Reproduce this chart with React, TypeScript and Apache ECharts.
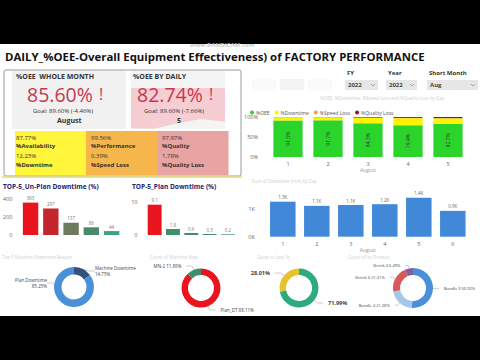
import { useEffect, useRef } from "react";
import * as echarts from "echarts";

const FONT = '"Open Sans", "Noto Sans", sans-serif';

// ---- Stacked daily OEE chart ----
const days5 = ["1", "2", "3", "4", "5"];
const oeePct = [91.5, 91.7, 84.3, 79.4, 82.7];
const downtimePct = [8.1, 7.5, 13.4, 17.7, 13.9];
const speedLossPct = [0.2, 0.4, 0.8, 0.6, 0.5];
const qualityLossPct = [0.2, 0.4, 1.5, 2.3, 2.9];

// ---- Top-5 downtime charts ----
const unplanReasons = ["Reason 1", "Reason 2", "Reason 3", "Reason 4", "Reason 5"];
const unplanValues = [363, 297, 137, 86, 44];
const unplanColors = ["#E8141E", "#C4262E", "#6E7A5C", "#4A8A68", "#3AA57C"];
const planReasons = ["Plan 1", "Plan 2", "Plan 3", "Plan 4", "Plan 5"];
const planValues = [9.1, 1.8, 0.6, 0.3, 0.2];
const planColors = ["#E8141E", "#3F8E6C", "#3F8E6C", "#3F8E6C", "#3F8E6C"];

// ---- Daily downtime (blue) ----
const days6 = ["1", "2", "3", "4", "5", "6"];
const dailyDowntime = [1260, 1110, 1140, 1170, 1400, 930];

// ---- Donuts ----
const donut1Names = ["Machine Downtime", "Plan Downtime"];
const donut1Values = [14.75, 85.25];
const donut1Colors = ["#34507F", "#4A8FD9"];
const donut2Names = ["Plan_DT", "MN-2"];
const donut2Values = [88.11, 11.89];
const donut2Colors = ["#E8141E", "#3F8E6C"];
const donut3Names = ["Good", "Loss"];
const donut3Values = [71.99, 28.01];
const donut3Colors = ["#2DAA7E", "#E6C22C"];
const donut4Names = ["Bundle 3", "Bundle 4", "Shrink 6", "Shrink 3"];
const donut4Values = [50.92, 21.28, 21.31, 6.49];
const donut4Colors = ["#4A8FD9", "#A5C8EA", "#D65A5A", "#7D5FA0"];

// ---- KPI texts ----
const kpiCells = [
  { x: 16, bg: "#FFF53A", v1: "87.77%", l1: "%Availability", v2: "12.23%", l2: "%Downtime" },
  { x: 91, bg: "#F7B64C", v1: "99.56%", l1: "%Performance", v2: "0.39%", l2: "%Speed Loss" },
  { x: 162, bg: "#E8A3A3", v1: "97.97%", l1: "%Quality", v2: "1.78%", l2: "%Quality Loss" },
];

function txt(x: number, y: number, text: string, style: any = {}, extra: any = {}) {
  return {
    type: "text",
    x,
    y,
    z: 20,
    style: {
      text,
      fontFamily: FONT,
      fontSize: 6,
      fill: "#333",
      textVerticalAlign: "middle",
      ...style,
    },
    ...extra,
  };
}

export default function App() {
  const ref = useRef<HTMLDivElement>(null);

  useEffect(() => {
    if (!ref.current) return;
    const chart = echarts.init(ref.current, undefined, { renderer: "svg" });

    const axisLbl = { fontSize: 5.5, color: "#666", fontFamily: FONT };
    const bigNum = { fontSize: 19.5, lineHeight: 18, fill: "#C8374D" };

    const graphic: any[] = [
      { type: "rect", shape: { x: 0, y: 0, width: 480, height: 44 }, style: { fill: "#000" }, z: 1 },
      { type: "rect", shape: { x: 0, y: 316, width: 480, height: 44 }, style: { fill: "#000" }, z: 1 },
      txt(5, 56.5, "DAILY_%OEE-Overall Equipment Effectiveness) of FACTORY PERFORMANCE", {
        fontSize: 11.4,
        lineHeight: 12,
        fontWeight: "bold",
        fill: "#111",
      }),
      txt(190, 45, "www.BANDICAM.com", { fontSize: 6, lineHeight: 6, fontWeight: "bold", fill: "rgba(190,190,190,0.85)" }, { z: 30 }),
      // KPI box
      { type: "rect", shape: { x: 4, y: 70, width: 237, height: 106, r: 2 }, style: { fill: "#fff", stroke: "#9a9a9a", lineWidth: 1 }, z: 1 },
      { type: "line", shape: { x1: 2, y1: 177, x2: 242, y2: 177 }, style: { stroke: "#E6DD73", lineWidth: 1.5 }, z: 1 },
      { type: "rect", shape: { x: 12, y: 71, width: 114, height: 58 }, style: { fill: "#F1F1F1" }, z: 1 },
      { type: "rect", shape: { x: 131, y: 71, width: 94, height: 58 }, style: { fill: "#F4F4F4" }, z: 1 },
      txt(16, 76.5, "%OEE  WHOLE MONTH", { fontSize: 7, lineHeight: 7, fontWeight: "bold" }),
      txt(27, 94, "85.60%", bigNum),
      txt(99, 94, "!", { ...bigNum, fontSize: 16 }),
      txt(33, 110.5, "Goal: 89.60% (-4.46%)", { fontSize: 6, lineHeight: 6 }),
      txt(57, 120, "August", { fontSize: 7, lineHeight: 7, fontWeight: "bold" }),
      txt(133, 76.5, "%OEE BY DAILY", { fontSize: 7, lineHeight: 7, fontWeight: "bold" }),
      txt(137, 94, "82.74%", bigNum),
      txt(209, 94, "!", { ...bigNum, fontSize: 16 }),
      txt(144, 110.5, "Goal: 89.60% (-7.66%)", { fontSize: 6, lineHeight: 6 }),
      txt(177, 120, "5", { fontSize: 7, lineHeight: 7, fontWeight: "bold" }),
      // slicers
      txt(347, 73, "FY", { fontSize: 6, fontWeight: "bold" }),
      txt(388, 73, "Year", { fontSize: 6, fontWeight: "bold" }),
      txt(429, 73, "Short Month", { fontSize: 6, fontWeight: "bold" }),
      { type: "rect", shape: { x: 345, y: 80, width: 33, height: 10 }, style: { fill: "#E6E6E6" }, z: 1 },
      { type: "rect", shape: { x: 386, y: 80, width: 31, height: 10 }, style: { fill: "#E6E6E6" }, z: 1 },
      { type: "rect", shape: { x: 427, y: 80, width: 51, height: 10 }, style: { fill: "#E6E6E6" }, z: 1 },
      txt(348, 85, "2022", { fontSize: 6, fontWeight: "bold", fill: "#444" }),
      txt(389, 85, "2022", { fontSize: 6, fontWeight: "bold", fill: "#444" }),
      txt(430, 85, "Aug", { fontSize: 6, fontWeight: "bold", fill: "#444" }),
      { type: "polyline", shape: { points: [[371, 84], [373, 86], [375, 84]] }, style: { stroke: "#888", lineWidth: 0.7, fill: null }, z: 5 },
      { type: "polyline", shape: { points: [[410, 84], [412, 86], [414, 84]] }, style: { stroke: "#888", lineWidth: 0.7, fill: null }, z: 5 },
      { type: "polyline", shape: { points: [[471, 84], [473, 86], [475, 84]] }, style: { stroke: "#888", lineWidth: 0.7, fill: null }, z: 5 },
      { type: "rect", shape: { x: 280, y: 79, width: 24, height: 11 }, style: { fill: "#F3F3F3" }, z: 1 },
      { type: "rect", shape: { x: 252, y: 79, width: 24, height: 11 }, style: { fill: "#FAFAFA" }, z: 1 },
      { type: "rect", shape: { x: 308, y: 79, width: 24, height: 11 }, style: { fill: "#FAFAFA" }, z: 1 },
      // faint visual titles
      txt(320, 98, "%OEE, %Downtime, %Speed Loss and %Quality Loss by Day", { fontSize: 4.5, fill: "#cfcfcf" }),
      txt(252, 181, "Sum of Downtime (min) by Day", { fontSize: 4.5, fill: "#cfcfcf" }),
      txt(2, 257, "Top 5 Machine Downtime Reason", { fontSize: 4.5, fill: "#d0d0d0" }),
      txt(150, 257, "Count of Machine Stop", { fontSize: 4.5, fill: "#d0d0d0" }),
      txt(257, 257, "Good vs Loss %", { fontSize: 4.5, fill: "#d0d0d0" }),
      txt(348, 257, "Count of by Product", { fontSize: 4.5, fill: "#d0d0d0" }),
      // chart titles
      txt(3, 186, "TOP-5_Un-Plan Downtime (%)", { fontSize: 6.6, fontWeight: "bold", fill: "#27246E" }),
      txt(132, 186, "TOP-5_Plan Downtime (%)", { fontSize: 6.6, fontWeight: "bold", fill: "#27246E" }),
    ];

    kpiCells.forEach((c, i) => {
      graphic.push({
        type: "rect",
        shape: { x: 15 + i * 71, y: 131, width: 71.5, height: 44 },
        style: { fill: c.bg },
        z: 2,
      });
      graphic.push(txt(c.x, 138, c.v1, { fontSize: 6 }));
      graphic.push(txt(c.x, 146, c.l1, { fontSize: 6, fontWeight: "bold" }));
      graphic.push(txt(c.x, 156, c.v2, { fontSize: 6 }));
      graphic.push(txt(c.x, 165, c.l2, { fontSize: 6, fontWeight: "bold" }));
    });

    const pieCommon = {
      type: "pie",
      startAngle: 90,
      clockwise: true,
      avoidLabelOverlap: true,
      emphasis: { disabled: true },
      labelLine: { length: 4, length2: 6, lineStyle: { color: "#aaa", width: 0.6 } },
      labelLayout: { hideOverlap: false },
    };

    const mk = (names: string[], values: number[], colors: string[]) =>
      names.map((n, i) => ({ name: n, value: values[i], itemStyle: { color: colors[i] } }));

    const option: any = {
      animation: false,
      backgroundColor: "#fff",
      textStyle: { fontFamily: FONT },
      graphic,
      legend: {
        data: ["%OEE", "%Downtime", "%Speed Loss", "%Quality Loss"],
        left: 245,
        top: 105,
        icon: "circle",
        itemWidth: 4,
        itemHeight: 4,
        itemGap: 5,
        textStyle: { fontSize: 5, color: "#555", padding: [0, 0, 0, -3] },
      },
      grid: [
        { left: 268, top: 117, width: 200, height: 40 },
        { left: 19.25, top: 199.3, width: 102.5, height: 35.7 },
        { left: 145.5, top: 201.7, width: 91.5, height: 33.3 },
        { left: 265.8, top: 195, width: 204, height: 41.7 },
        { left: 131, top: 88, width: 94, height: 41 },
      ],
      xAxis: [
        {
          gridIndex: 0, type: "category", data: days5,
          axisLine: { show: false }, axisTick: { show: false },
          axisLabel: { ...axisLbl, margin: 4 },
          name: "August", nameLocation: "middle", nameGap: 10,
          nameTextStyle: { fontSize: 5, color: "#999" },
        },
        { gridIndex: 1, type: "category", data: unplanReasons, show: false },
        { gridIndex: 2, type: "category", data: planReasons, show: false },
        {
          gridIndex: 3, type: "category", data: days6,
          axisLine: { show: false }, axisTick: { show: false },
          axisLabel: { ...axisLbl, margin: 4 },
          name: "August", nameLocation: "middle", nameGap: 10,
          nameTextStyle: { fontSize: 5, color: "#999" },
        },
        { gridIndex: 4, type: "category", data: days5, show: false, boundaryGap: false },
      ],
      yAxis: [
        {
          gridIndex: 0, type: "value", min: 0, max: 100, interval: 50,
          axisLabel: { ...axisLbl, formatter: "{value}%", margin: 10 },
          splitLine: { show: false }, axisLine: { show: false },
        },
        {
          gridIndex: 1, type: "value", min: 0, max: 400, interval: 200,
          axisLabel: { ...axisLbl, margin: 8 },
          splitLine: { show: false }, axisLine: { show: false },
        },
        {
          gridIndex: 2, type: "value", min: 0, max: 10, interval: 10,
          axisLabel: { ...axisLbl, margin: 8 },
          splitLine: { show: false }, axisLine: { show: false },
        },
        {
          gridIndex: 3, type: "value", min: 0, max: 1500, interval: 1000,
          axisLabel: { ...axisLbl, margin: 11, showMaxLabel: false, formatter: (v: number) => v / 1000 + "K" },
          splitLine: { show: false }, axisLine: { show: false },
        },
        { gridIndex: 4, type: "value", min: 40, max: 92, inverse: true, show: false },
      ],
      series: [
        {
          name: "%OEE", type: "bar", stack: "oee", xAxisIndex: 0, yAxisIndex: 0, barWidth: "73%",
          data: oeePct, itemStyle: { color: "#2BD42B" },
          label: { show: true, position: "inside", rotate: 90, fontSize: 5, color: "#333", formatter: (p: any) => p.value + "%" },
        },
        { name: "%Downtime", type: "bar", stack: "oee", xAxisIndex: 0, yAxisIndex: 0, data: downtimePct, itemStyle: { color: "#FFF200" } },
        { name: "%Speed Loss", type: "bar", stack: "oee", xAxisIndex: 0, yAxisIndex: 0, data: speedLossPct, itemStyle: { color: "#F5A623" } },
        { name: "%Quality Loss", type: "bar", stack: "oee", xAxisIndex: 0, yAxisIndex: 0, data: qualityLossPct, itemStyle: { color: "#A01818" } },
        {
          type: "bar", xAxisIndex: 1, yAxisIndex: 1, barWidth: "76%",
          data: unplanValues.map((v, i) => ({ value: v, itemStyle: { color: unplanColors[i] } })),
          label: { show: true, position: "top", distance: 2, fontSize: 4.5, color: "#777" },
        },
        {
          type: "bar", xAxisIndex: 2, yAxisIndex: 2, barWidth: "76%",
          data: planValues.map((v, i) => ({ value: v, itemStyle: { color: planColors[i] } })),
          label: { show: true, position: "top", distance: 2, fontSize: 4.5, color: "#777", formatter: (p: any) => p.value.toFixed(1) },
        },
        {
          type: "bar", xAxisIndex: 3, yAxisIndex: 3, barWidth: "75%",
          data: dailyDowntime, itemStyle: { color: "#4189D8" },
          label: { show: true, position: "top", distance: 2, fontSize: 4.5, color: "#666", formatter: (p: any) => (p.value / 1000).toFixed(1) + "K" },
        },
        {
          type: "line", xAxisIndex: 4, yAxisIndex: 4, data: oeePct, symbol: "none",
          lineStyle: { width: 0 }, areaStyle: { color: "#F5CDD2", opacity: 1, origin: "start" }, z: 1,
        },
        {
          ...pieCommon, center: [74, 287], radius: [12.5, 20],
          data: mk(donut1Names, donut1Values, donut1Colors),
          label: { fontSize: 4.5, color: "#444", lineHeight: 6, overflow: "none", formatter: (p: any) => `${p.name}\n${p.value.toFixed(2)}%` },
          labelLayout: (p: any) =>
            p.dataIndex === 1
              ? { x: 47, y: 283, align: "right", verticalAlign: "middle", hideOverlap: false }
              : { x: 95, y: 271, align: "left", verticalAlign: "middle", hideOverlap: false },
        },
        {
          ...pieCommon, center: [201, 288], radius: [13, 19.5],
          data: mk(donut2Names, donut2Values, donut2Colors),
          label: { fontSize: 4.5, color: "#444", overflow: "none", formatter: (p: any) => `${p.name} ${p.value.toFixed(2)}%` },
        },
        {
          ...pieCommon, center: [299, 288], radius: [13, 19.5],
          data: mk(donut3Names, donut3Values, donut3Colors),
          label: { fontSize: 5.5, fontWeight: "bold", color: "#444", overflow: "none", formatter: (p: any) => `${p.value.toFixed(2)}%` },
        },
        {
          ...pieCommon, center: [413, 288], radius: [13, 20],
          data: mk(donut4Names, donut4Values, donut4Colors),
          labelLine: { length: 3, length2: 3, lineStyle: { color: "#aaa", width: 0.6 } },
          label: { fontSize: 4, color: "#444", overflow: "none", formatter: (p: any) => `${p.name} ${p.value.toFixed(2)}%` },
        },
      ],
    };

    chart.setOption(option);
    return () => chart.dispose();
  }, []);

  return (
    <div
      ref={ref}
      style={{ position: "fixed", left: 0, top: 0, width: 480, height: 360 }}
    />
  );
}
